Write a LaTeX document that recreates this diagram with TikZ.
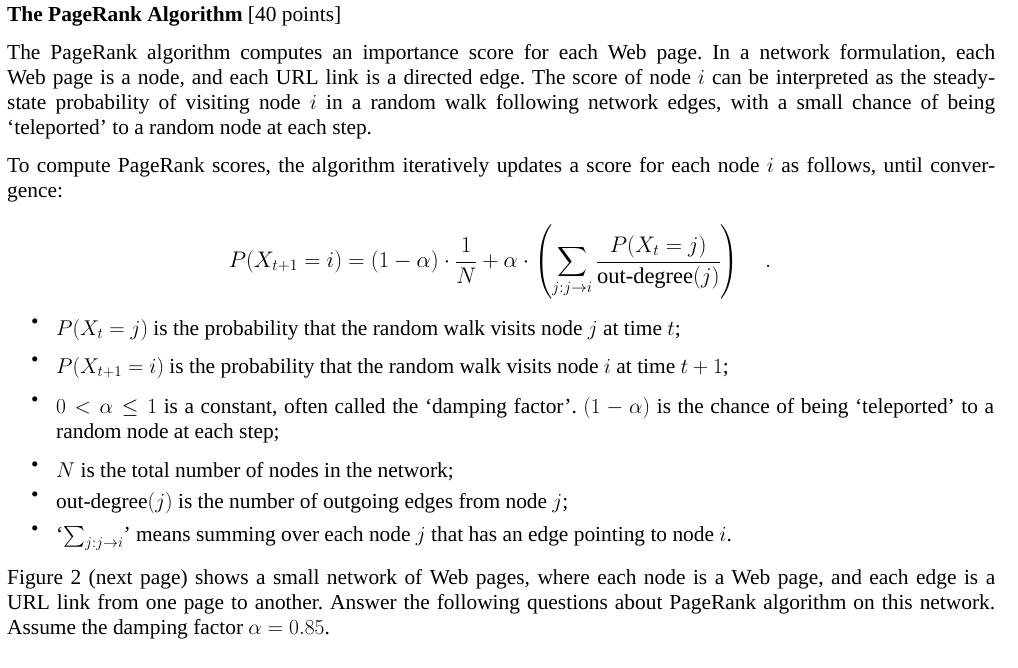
\documentclass[tikz,border=0pt]{standalone}
\usepackage{fix-cm}
\usepackage{amsmath}
\usepackage{fontspec}
\setmainfont{Liberation Serif}
\begin{document}
\frenchspacing
\begin{tikzpicture}[x=1pt,y=-1pt,
  txt/.style={anchor=north west,inner sep=0pt,align=justify,text width=#1,font=\fontsize{21.4}{25}\selectfont\frenchspacing},
  txt/.default=988pt,
  bul/.style={anchor=north west,inner sep=0pt,font=\fontsize{21.4}{25}\selectfont}]
\useasboundingbox (0,0) rectangle (1018,668);
\node[txt] (title) at (7,6) {\textbf{The PageRank Algorithm} [40 points]};
\node[txt] (p1) at (7,44) {The PageRank algorithm computes an importance score for each Web page. In a network formulation, each\linebreak
Web page is a node, and each URL link is a directed edge. The score of node $i$ can be interpreted as the steady-\linebreak
state probability of visiting node $i$ in a random walk following network edges, with a small chance of being\linebreak
`teleported' to a random node at each step.};
\node[txt] (p2) at (7,157) {To compute PageRank scores, the algorithm iteratively updates a score for each node $i$ as follows, until conver-\linebreak gence:};
\node[anchor=center,inner sep=0pt,font=\fontsize{22.5}{26}\selectfont] (eq) at (500,262)
 {$\displaystyle P(X_{t+1}=i)=(1-\alpha)\cdot\frac{1}{N}+\alpha\cdot\left(\sum_{j:j\to i}\frac{P(X_t=j)}{\text{out-degree}(j)}\right)\quad.$};
\foreach \n/\y/\t in {
 b1/319/{$P(X_t=j)$ is the probability that the random walk visits node $j$ at time $t$;},
 b2/357/{$P(X_{t+1}=i)$ is the probability that the random walk visits node $i$ at time $t+1$;},
 b4/462/{$N$ is the total number of nodes in the network;},
 b5/492/{out-degree$(j)$ is the number of outgoing edges from node $j$;},
 b6/526/{`$\sum_{j:j\to i}$' means summing over each node $j$ that has an edge pointing to node $i$.}}{
  \node[bul] (\n d) at (31,\y) {\textbullet};
  \node[txt=938pt] (\n) at (56,\y) {\t};
}
\node[bul] (b3d) at (31,397) {\textbullet};
\node[txt=938pt] (b3) at (56,397) {$0<\alpha\le 1$ is a constant, often called the `damping factor'. $(1-\alpha)$ is the chance of being `teleported' to a\linebreak random node at each step;};
\node[txt] (p3) at (7,569) {Figure 2 (next page) shows a small network of Web pages, where each node is a Web page, and each edge is a\linebreak
URL link from one page to another. Answer the following questions about PageRank algorithm on this network.\linebreak
Assume the damping factor $\alpha=0.85$.};
\end{tikzpicture}
\end{document}
